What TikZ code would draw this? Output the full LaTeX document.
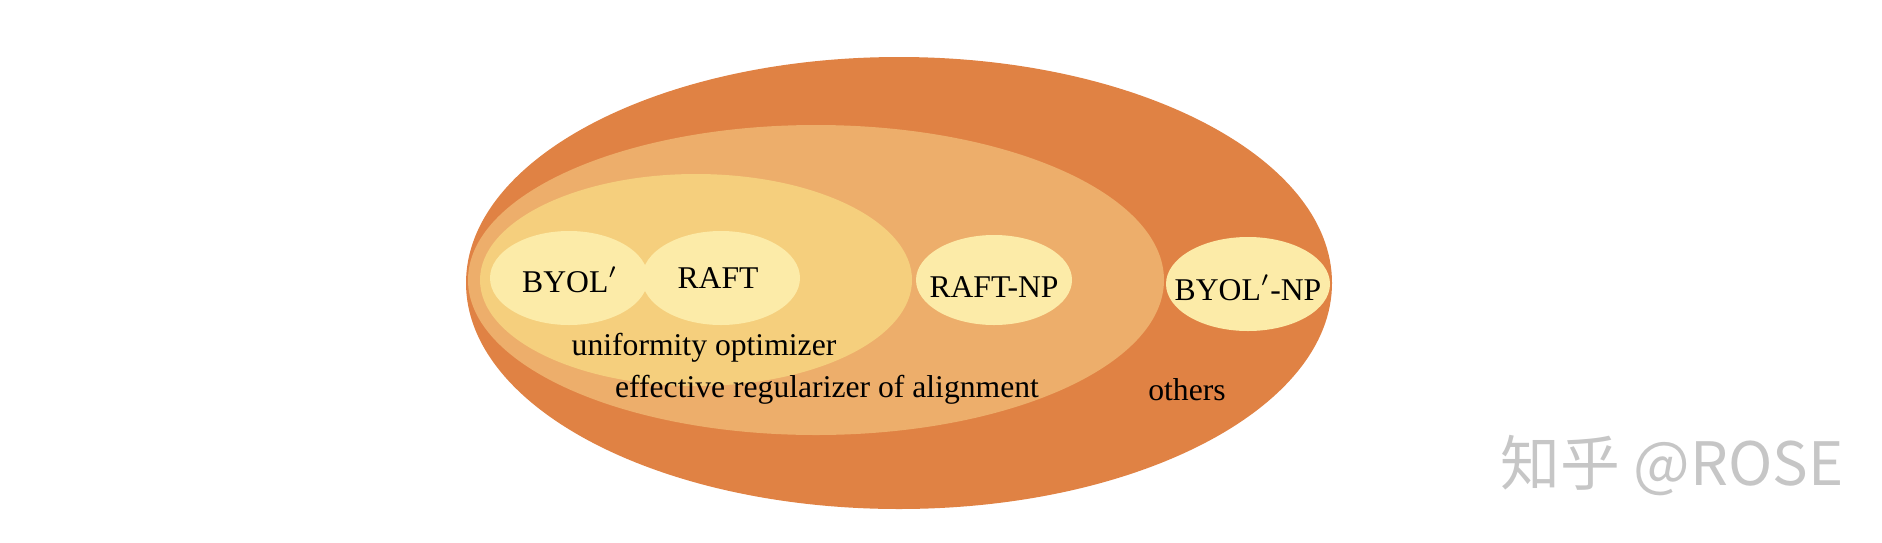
\documentclass[tikz,border=0pt]{standalone}
\usepackage{fontspec}
\setmainfont{Liberation Serif}
\newfontfamily\cjk{Noto Sans CJK SC}
\begin{document}
\begin{tikzpicture}[x=0.01cm,y=-0.01cm,
  lab/.style={font=\fontsize{9}{10}\selectfont, text=black, inner sep=0pt}]
\useasboundingbox (0,0) rectangle (1882,542);
\definecolor{c1}{HTML}{E08244}
\definecolor{c2}{HTML}{EDAE6B}
\definecolor{c3}{HTML}{F5CF7D}
\definecolor{c4}{HTML}{FCEBA8}
\fill[c1] (899,283) ellipse [x radius=433, y radius=226];
\fill[c2] (816,280) ellipse [x radius=348, y radius=155];
\fill[c3] (696,280) ellipse [x radius=216, y radius=106];
\fill[c4] (569,278) ellipse [x radius=79, y radius=47];
\fill[c4] (721,278) ellipse [x radius=79, y radius=47];
\fill[c4] (994,280) ellipse [x radius=78, y radius=45];
\fill[c4] (1248,284) ellipse [x radius=82, y radius=47];
\node[lab] (byol) at (570,280) {BYOL$'$};
\node[lab] (raft) at (718,278) {RAFT};
\node[lab] (raftnp) at (994,287) {RAFT-NP};
\node[lab] (byolnp) at (1248,288) {BYOL$'$-NP};
\node[lab] (unif) at (704,348) {uniformity optimizer};
\node[lab] (eff) at (827,390) {effective regularizer of alignment};
\node[lab] (oth) at (1187,390) {others};
\node[inner sep=0pt, text=gray!45, font=\cjk\fontsize{17}{20}\selectfont] (wm) at (1672,466) {知乎 @ROSE};
\end{tikzpicture}
\end{document}
